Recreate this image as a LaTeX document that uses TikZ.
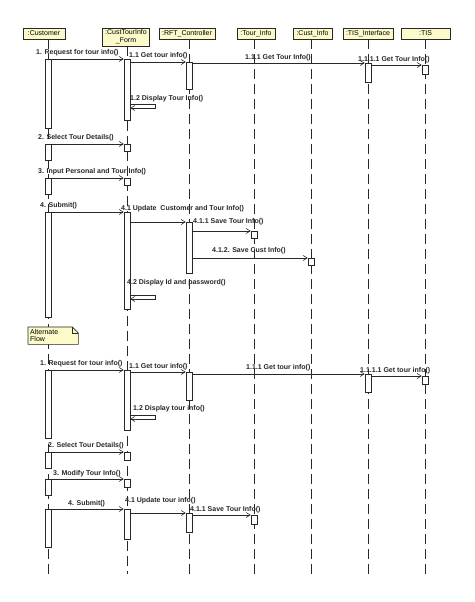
\documentclass[tikz,border=0pt]{standalone}
\usepackage{fontspec}
\setmainfont{Liberation Sans}
\usetikzlibrary{arrows.meta}
\definecolor{headfill}{RGB}{252,250,200}
\definecolor{inkc}{RGB}{40,40,40}
\newcommand{\actbar}[4]{\node[act, anchor=north, minimum height={(#4-#3)*1pt}] (#1) at (#2,#3) {};}
\begin{document}
\begin{tikzpicture}[x=1pt,y=-1pt,
  txt/.style={font=\fontsize{7}{8}\selectfont, text=black},
  head/.style={txt, draw=inkc, fill=headfill, line width=0.6pt, minimum height=11pt, inner sep=1pt, align=center},
  life/.style={draw=inkc, line width=0.7pt, dash pattern=on 10pt off 5pt},
  act/.style={draw=inkc, fill=white, line width=0.6pt, minimum width=6pt, inner sep=0pt},
  msg/.style={draw=inkc, line width=0.6pt, -{Straight Barb[length=4pt,width=5pt]}},
  lbl/.style={font=\fontsize{7}{8}\selectfont\bfseries, text=black!85, anchor=west, inner sep=0pt},
  notebox/.style={anchor=north west, minimum width=50pt, minimum height=17pt, inner sep=0pt},
  notetxt/.style={txt, anchor=north west, inner sep=2pt, align=left}]
\useasboundingbox (0,0) rectangle (474,602);
% headers
\node[head, minimum width=42pt] (hC) at (44,33.5) {:Customer};
\node[head, minimum width=47pt, minimum height=18pt] (hF) at (126,37) {:CustTourInfo\\\_Form};
\node[head, minimum width=56pt] (hR) at (187,33.5) {:RFT\_Controller};
\node[head, minimum width=38pt] (hTI) at (256,33.5) {:Tour\_Info};
\node[head, minimum width=39pt] (hCI) at (312.5,33.5) {:Cust\_Info};
\node[head, minimum width=50pt] (hTII) at (368,33.5) {:TIS\_Interface};
\node[head, minimum width=49pt] (hT) at (425.5,33.5) {:TIS};
% lifeline x and bottom
\coordinate (xC) at (48,0);
\coordinate (xF) at (127,0);
\coordinate (xR) at (189,0);
\coordinate (xTI) at (254,0);
\coordinate (xCI) at (311,0);
\coordinate (xTII) at (368,0);
\coordinate (xT) at (425,0);
\coordinate (bot) at (0,574);
\draw[life] (xC |- hC.south) -- (xC |- bot);
\draw[life] (xF |- hF.south) -- (xF |- bot);
\draw[life] (xR |- hR.south) -- (xR |- bot);
\draw[life] (xTI |- hTI.south) -- (xTI |- bot);
\draw[life] (xCI |- hCI.south) -- (xCI |- bot);
\draw[life] (xTII |- hTII.south) -- (xTII |- bot);
\draw[life] (xT |- hT.south) -- (xT |- bot);
% ---------- section 1 ----------
\actbar{cA1}{48}{59}{128}
\actbar{fA1}{127}{59}{120}
\actbar{rA1}{189}{62}{89}
\actbar{iA1}{368}{63}{82}
\actbar{tA1}{425}{65}{74}
\actbar{cA2}{48}{144}{160}
\actbar{fA2}{127}{144}{151}
\actbar{cA3}{48}{178}{194}
\actbar{fA3}{127}{178}{185}
\actbar{cA4}{48}{212}{317}
\actbar{fA4}{127}{212}{309}
\actbar{rA4}{189}{222}{273}
\actbar{oA4}{254}{231}{238}
\actbar{uA4}{311}{258}{265}
\draw[msg] (cA1.east |- fA1.north) -- (fA1.north west);
\draw[msg] (fA1.east |- rA1.north) -- (rA1.north west);
\draw[msg] (rA1.east |- iA1.north) -- (iA1.north west);
\draw[msg] (iA1.east |- tA1.north) -- (tA1.north west);
\coordinate (s1t) at (155,104);
\coordinate (s1b) at (155,108);
\draw[msg] (fA1.east |- s1t) -- (s1t) -- (s1b) -- (fA1.east |- s1b);
\draw[msg] (cA2.east |- fA2.north) -- (fA2.north west);
\draw[msg] (cA3.east |- fA3.north) -- (fA3.north west);
\draw[msg] (cA4.east |- fA4.north) -- (fA4.north west);
\draw[msg] (fA4.east |- rA4.north) -- (rA4.north west);
\draw[msg] (rA4.east |- oA4.north) -- (oA4.north west);
\draw[msg] (rA4.east |- uA4.north) -- (uA4.north west);
\coordinate (s2t) at (155,295);
\coordinate (s2b) at (155,299);
\draw[msg] (fA4.east |- s2t) -- (s2t) -- (s2b) -- (fA4.east |- s2b);
\node[lbl] (l1) at (36,53) {1. Request for tour info()};
\node[lbl] (l2) at (129,56) {1.1 Get tour info()};
\node[lbl] (l3) at (245,58) {1.1.1 Get Tour Info()};
\node[lbl] (l4) at (358,60) {1.1.1.1 Get Tour Info()};
\node[lbl] (l5) at (130,99) {1.2 Display Tour Info()};
\node[lbl] (l6) at (38,138) {2. Select Tour Details()};
\node[lbl] (l7) at (38,172) {3. Input Personal and Tour Info()};
\node[lbl] (l8) at (40,206) {4. Submit()};
\node[lbl] (l9) at (121,209) {4.1 Update\ \ Customer and Tour Info()};
\node[lbl] (l10) at (193,222) {4.1.1 Save Tour Info()};
\node[lbl] (l11) at (212,251) {4.1.2. Save Cust Info()};
\node[lbl] (l12) at (127,283) {4.2 Display Id and password()};
% note
\node[notebox] (note) at (28,327) {};
\draw[draw=inkc, fill=headfill, line width=0.6pt] (note.north west) -- ([xshift=-6pt]note.north east) -- ([yshift=-6pt]note.north east) -- (note.south east) -- (note.south west) -- cycle;
\draw[draw=inkc, line width=0.6pt] ([xshift=-6pt]note.north east) -- ([xshift=-6pt,yshift=-6pt]note.north east) -- ([yshift=-6pt]note.north east);
\node[notetxt] (notetext) at (note.north west) {Alternate\\[-1pt]Flow};
% ---------- section 2 ----------
\actbar{cB1}{48}{370}{438}
\actbar{fB1}{127}{370}{430}
\actbar{rB1}{189}{372}{400}
\actbar{iB1}{368}{374}{392}
\actbar{tB1}{425}{376}{384}
\actbar{cB2}{48}{452}{468}
\actbar{fB2}{127}{452}{460}
\actbar{cB3}{48}{479}{495}
\actbar{fB3}{127}{479}{487}
\actbar{cB4}{48}{509}{547}
\actbar{fB4}{127}{509}{539}
\actbar{rB4}{189}{513}{532}
\actbar{oB4}{254}{515}{524}
\draw[msg] (cB1.east |- fB1.north) -- (fB1.north west);
\draw[msg] (fB1.east |- rB1.north) -- (rB1.north west);
\draw[msg] (rB1.east |- iB1.north) -- (iB1.north west);
\draw[msg] (iB1.east |- tB1.north) -- (tB1.north west);
\coordinate (s3t) at (155,415);
\coordinate (s3b) at (155,419);
\draw[msg] (fB1.east |- s3t) -- (s3t) -- (s3b) -- (fB1.east |- s3b);
\draw[msg] (cB2.east |- fB2.north) -- (fB2.north west);
\draw[msg] (cB3.east |- fB3.north) -- (fB3.north west);
\draw[msg] (cB4.east |- fB4.north) -- (fB4.north west);
\draw[msg] (fB4.east |- rB4.north) -- (rB4.north west);
\draw[msg] (rB4.east |- oB4.north) -- (oB4.north west);
\node[lbl] (m1) at (40,364) {1. Request for tour info()};
\node[lbl] (m2) at (129,367) {1.1 Get tour info()};
\node[lbl] (m3) at (246,368) {1.1.1 Get tour info()};
\node[lbl] (m4) at (360,371) {1.1.1.1 Get tour info()};
\node[lbl] (m5) at (133,409) {1.2 Display tour info()};
\node[lbl] (m6) at (48,446) {2. Select Tour Details()};
\node[lbl] (m7) at (53,474) {3. Modify Tour Info()};
\node[lbl] (m8) at (68,504) {4. Submit()};
\node[lbl] (m9) at (125,501) {4.1 Update tour info()};
\node[lbl] (m10) at (190,510) {4.1.1 Save Tour Info()};
\end{tikzpicture}
\end{document}
